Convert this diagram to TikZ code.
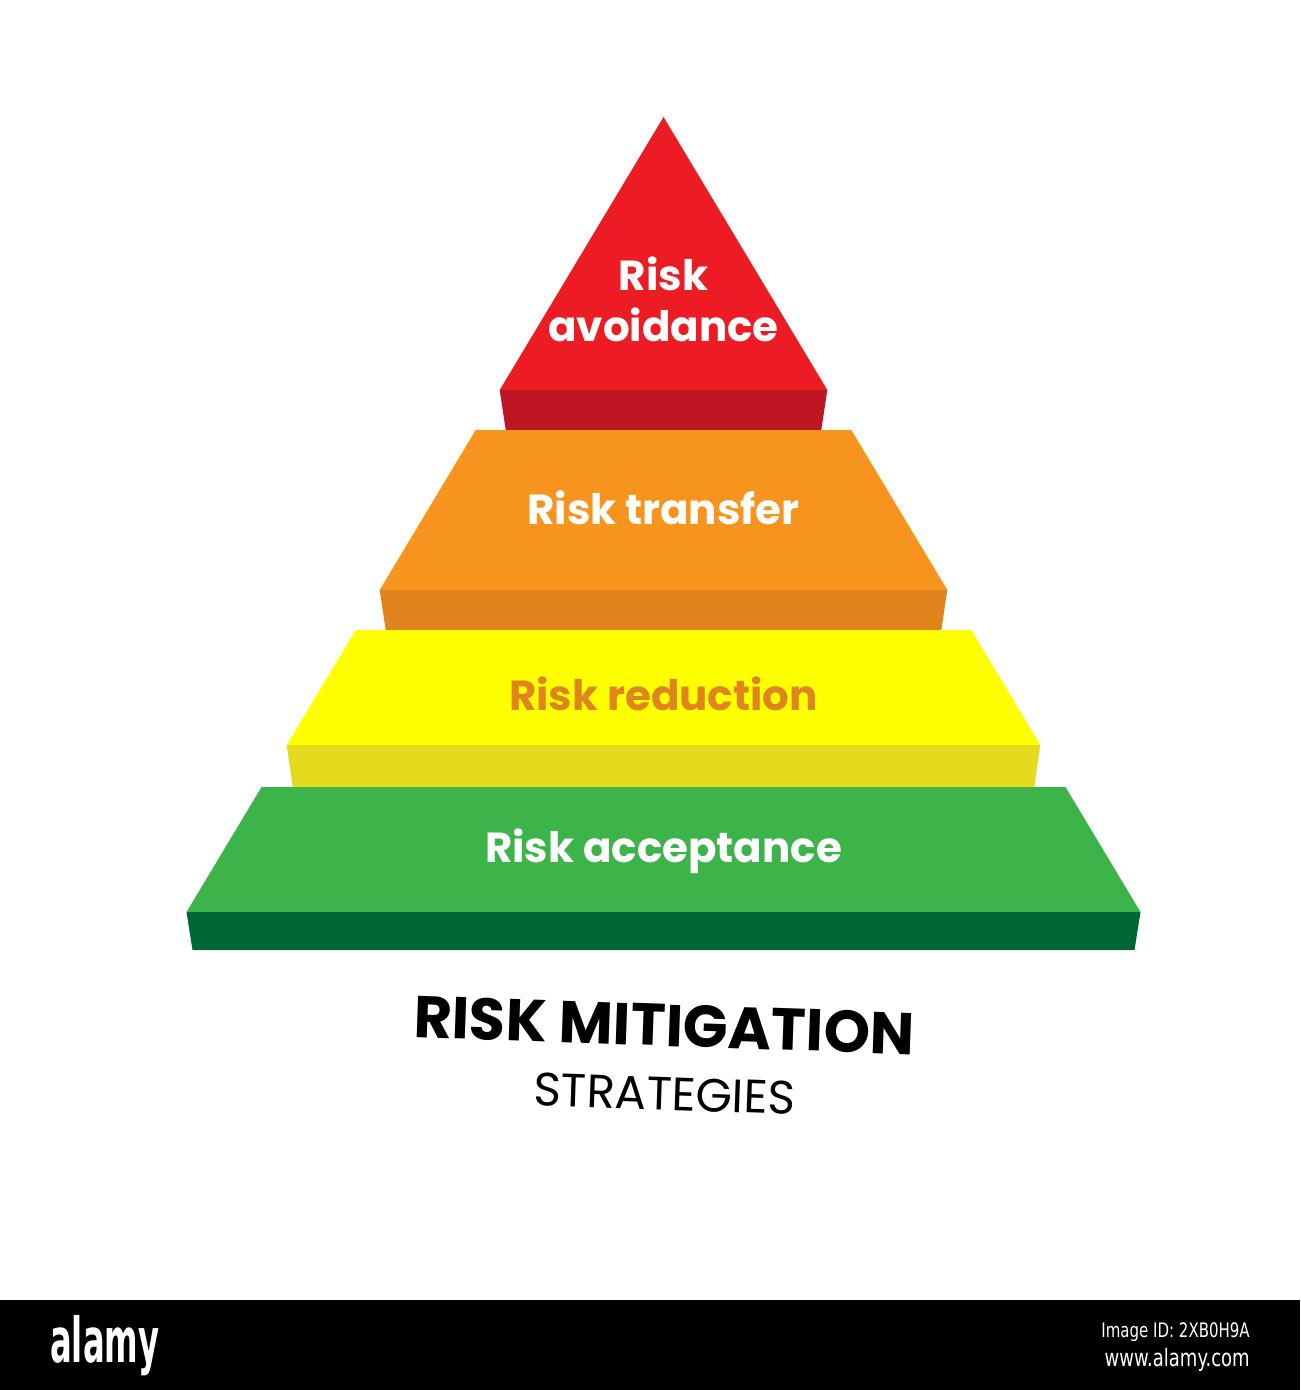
\documentclass[tikz,border=0pt]{standalone}
\usepackage{fontspec}
\setmainfont{Poppins}
\newfontfamily\wmfont{DejaVu Sans}
\definecolor{redtop}{HTML}{ED1C24}
\definecolor{redside}{HTML}{BE1622}
\definecolor{orgtop}{HTML}{F7941D}
\definecolor{orgside}{HTML}{E0851E}
\definecolor{yeltop}{HTML}{FFFF00}
\definecolor{yelside}{HTML}{E6DA1E}
\definecolor{grntop}{HTML}{3CB44A}
\definecolor{grnside}{HTML}{006837}
\definecolor{redtext}{HTML}{E0851E}
\tikzset{
  lbl/.style={anchor=base, inner sep=0pt, font=\fontsize{21}{25}\selectfont\bfseries, text=white},
  wm/.style={inner sep=0pt, text=white}
}
\begin{document}
\begin{tikzpicture}[x=0.5pt,y=-0.5pt]
\useasboundingbox (0,0) rectangle (1300,1390);
\fill[white] (0,0) rectangle (1300,1390);
% red
\fill[redtop] (663.5,117) -- (499.7,390) -- (827.3,390) -- cycle;
\fill[redside] (499.7,390) -- (827.3,390) -- (821.3,430) -- (505.7,430) -- cycle;
% orange
\fill[orgtop] (475.7,430) -- (851.3,430) -- (947.3,590) -- (379.7,590) -- cycle;
\fill[orgside] (379.7,590) -- (947.3,590) -- (941.3,630) -- (385.7,630) -- cycle;
% yellow
\fill[yeltop] (355.7,630) -- (971.3,630) -- (1040.3,745) -- (286.7,745) -- cycle;
\fill[yelside] (286.7,745) -- (1040.3,745) -- (1034.3,787) -- (292.7,787) -- cycle;
% green
\fill[grntop] (261.5,787) -- (1065.5,787) -- (1140.5,912) -- (186.5,912) -- cycle;
\fill[grnside] (186.5,912) -- (1140.5,912) -- (1134.5,950) -- (192.5,950) -- cycle;
% labels
\node[lbl] (avoid1) at (663.5,291) {Risk};
\node[lbl] (avoid2) at (663.5,342) {avoidance};
\node[lbl] (transfer) at (663.5,524) {Risk transfer};
\node[lbl, text=redtext] (reduction) at (663.5,710) {Risk reduction};
\node[lbl] (accept) at (663.5,862) {Risk acceptance};
% title
\node[anchor=base, inner sep=0pt, rotate=-2, font=\fontsize{29.5}{32}\selectfont\bfseries] (title) at (663.5,1046) {RISK MITIGATION};
\node[anchor=base, inner sep=0pt, rotate=-2, font=\fontsize{23.4}{27}\selectfont] (subtitle) at (664,1110) {STRATEGIES};
% bottom bar
\fill[black] (0,1300) rectangle (1300,1390);
\node[wm, anchor=base west, xscale=0.52, font=\wmfont\fontsize{31}{33}\selectfont\bfseries] (logo) at (50,1362) {alamy};
\node[wm, anchor=base east, xscale=0.75, font=\wmfont\fontsize{10}{12}\selectfont] (imgid) at (1250,1337) {Image ID: 2XB0H9A};
\node[wm, anchor=base east, xscale=0.75, font=\wmfont\fontsize{12}{14}\selectfont] (url) at (1250,1366) {www.alamy.com};
\end{tikzpicture}
\end{document}
